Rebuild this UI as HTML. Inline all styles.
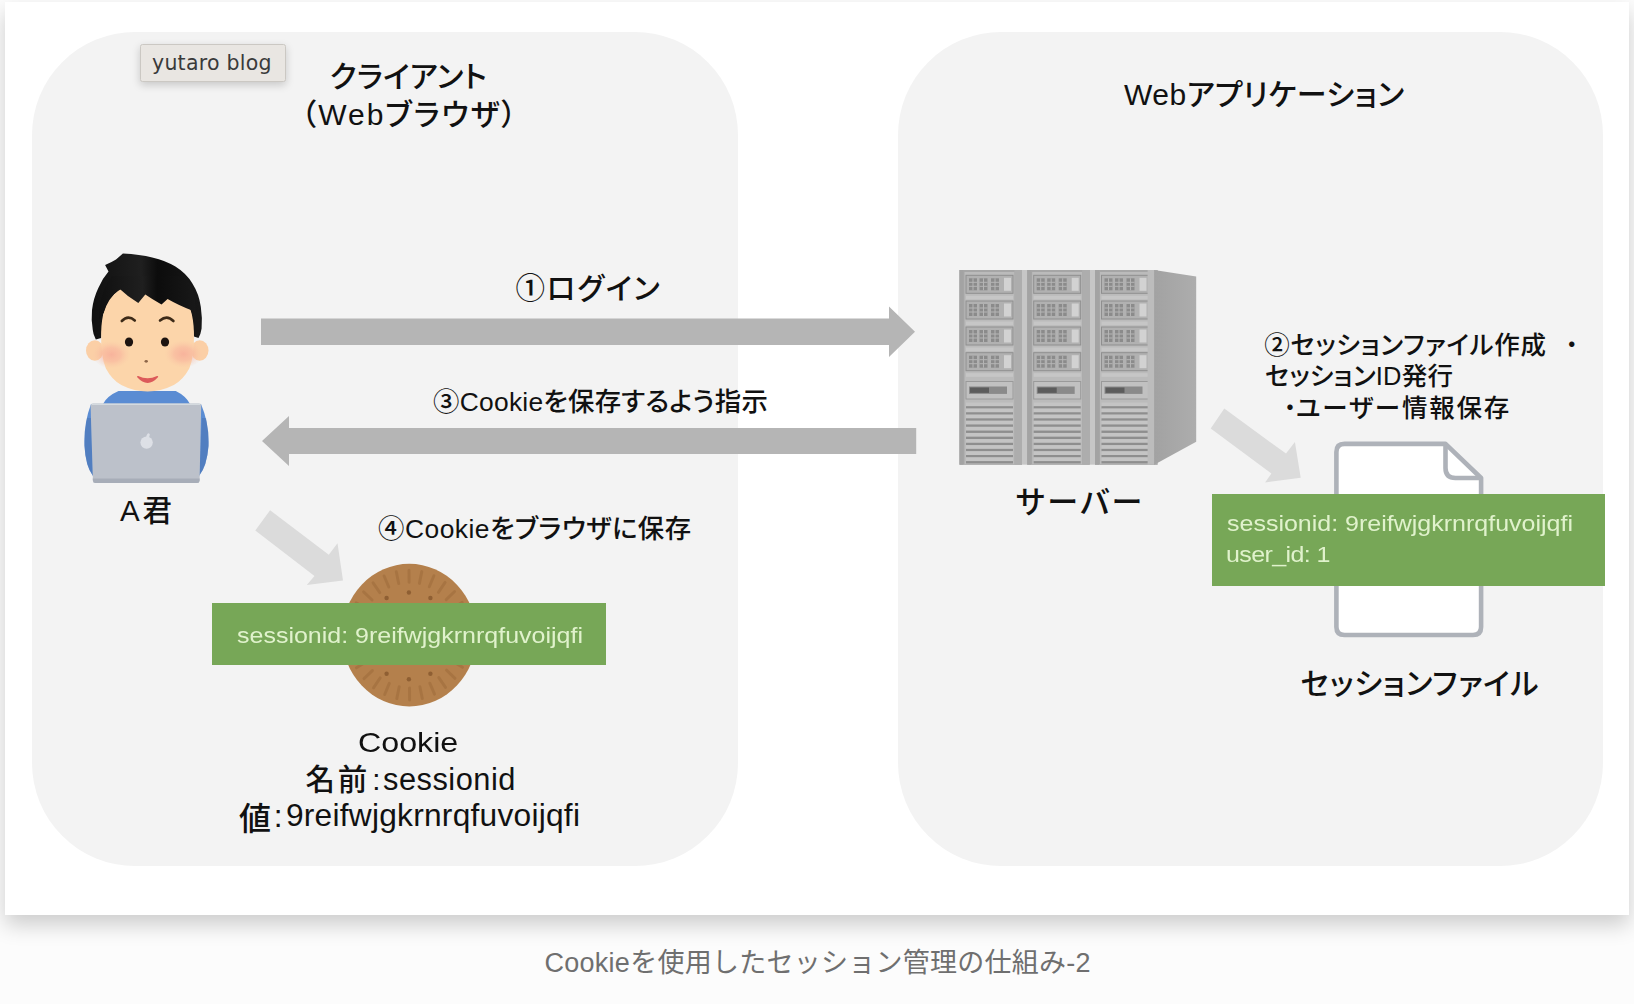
<!DOCTYPE html>
<html lang="ja">
<head>
<meta charset="utf-8">
<title>Cookieを使用したセッション管理の仕組み-2</title>
<style>
html,body{margin:0;padding:0;}
body{width:1634px;height:1004px;overflow:hidden;background:#fcfcfc;position:relative;
  font-family:"Liberation Sans","Noto Sans CJK JP",sans-serif;color:#111;}
.topstrip{position:absolute;left:0;top:0;width:1634px;height:2px;background:#fcfcfc;}
.card{position:absolute;left:5px;top:2px;width:1624px;height:913px;background:#fff;
  box-shadow:0 10px 20px rgba(0,0,0,.19);}
.panel{position:absolute;top:32px;width:705px;height:834px;background:#f3f3f3;border-radius:103px;}
#pl{left:32px;width:706px;}
#pr{left:898px;width:705px;}
.t{position:absolute;white-space:nowrap;line-height:1;}
.p{font-feature-settings:"palt";}
.t{font-weight:500;}
.green .t,.tip .t{font-weight:400;}
.c{transform:translateX(-50%);text-align:center;}
.tip{position:absolute;left:139.5px;top:43.5px;width:146.5px;height:38.5px;box-sizing:border-box;background:#e9e6e2;
  border:1px solid #cbc8c3;border-radius:2.5px;box-shadow:0 3px 8px rgba(0,0,0,.18);
  font-family:"DejaVu Sans","Liberation Sans",sans-serif;font-size:20.5px;letter-spacing:.25px;color:#3a3a3a;white-space:nowrap;}
.green{position:absolute;background:#77a757;color:#e0f2cc;font-size:22.5px;white-space:nowrap;}
.sx{transform:scaleX(1.111);transform-origin:0 0;}
svg{position:absolute;left:0;top:0;}
#boy,#server,#cookie,#file{filter:blur(.45px);}
.cap{position:absolute;left:544.6px;top:949.8px;font-size:27px;line-height:1;letter-spacing:.25px;color:#6f6f6f;white-space:nowrap;}
</style>
</head>
<body>
<div class="topstrip"></div>
<div class="card"></div>
<div class="panel" id="pl"></div>
<div class="panel" id="pr"></div>

<!-- ART -->
<svg id="art" width="1634" height="1004" viewBox="0 0 1634 1004">
  <defs>
    <radialGradient id="ck" cx="50%" cy="50%" r="50%"><stop offset="0" stop-color="#f6a596" stop-opacity=".7"/><stop offset=".5" stop-color="#f7ad9a" stop-opacity=".5"/><stop offset="1" stop-color="#f9c4a6" stop-opacity="0"/></radialGradient>
    <linearGradient id="sd" x1="0" y1="0" x2="1" y2="0"><stop offset="0" stop-color="#a2a2a2"/><stop offset="1" stop-color="#adadad"/></linearGradient>
    <linearGradient id="hr" x1="0" y1="0" x2="1" y2="0"><stop offset="0" stop-color="#101010"/><stop offset=".45" stop-color="#1f1f1f"/><stop offset=".6" stop-color="#0c0c0c"/><stop offset="1" stop-color="#181818"/></linearGradient>
  </defs>
  <!-- big arrows -->
  <polygon points="261,318.5 889,318.5 889,306.5 915,331.8 889,357 889,345 261,345" fill="#b5b5b5"/>
  <polygon points="916.2,428 289,428 289,416 262,441 289,466 289,454 916.2,454" fill="#b5b5b5"/>
  <!-- small diagonal arrows -->
  <polygon points="270.1,510.3 328.8,554.7 337.5,543.2 343,580.5 306.8,584.9 314.5,576.1 255.3,530.6" fill="#dbdbdb"/>
  <polygon points="1224.3,408.6 1286,453.6 1294.9,442.1 1300.7,477.7 1265.1,482.4 1271.4,473.5 1210.7,428.5" fill="#dbdbdb"/>

  <!-- boy -->
  <g id="boy">
    <!-- body / shirt -->
    <path d="M118.5 391 L175.8 391 Q186 396 190 404 L201 404 Q209.5 424 208.5 446 Q207 466 199 476 L93 476 Q85.500 466 84.500 446 Q83.500 424 91 404 L103 404 Q107 396 118.500 391Z" fill="#5a8cd3"/>
    <path d="M93 476 Q85.500 466 84.500 446 Q84 432 87 418 L91 418 L93 476Z" fill="#4a72b0" opacity=".55"/>
    <path d="M199 476 Q207 466 208.500 446 Q209 432 206 418 L202 418 L199 476Z" fill="#4a72b0" opacity=".55"/>
    <!-- ears -->
    <ellipse cx="94.800" cy="350.500" rx="8.800" ry="10.300" fill="#fbcfa6"/>
    <ellipse cx="199.700" cy="350.500" rx="8.800" ry="10.300" fill="#fbcfa6"/>
    <!-- hair back -->
    <path d="M122.900 253.500 Q140 254.500 152.200 257.400 Q166 260.500 175.400 266.600 Q186.500 273.500 192.400 283.600 Q199 294 200.800 306.800 Q202.500 318 201.600 328.400 Q200.800 334 198.500 338 L193.900 336.500 L190.800 311 L103.600 313 L101.200 338 L95.800 339.500 Q93 334 92.800 329.900 Q91 320 92 309.900 Q93.500 298 98.200 288.200 Q102 279 108.500 271.500 L105.100 265.100 Q112 262 116 259.500 Z" fill="url(#hr)"/>
    <!-- face -->
    <path d="M101.200 338 Q100.500 312 110 298 Q125 282 147.500 282 Q170 282 185 298 Q194.500 312 193.900 338 Q194.500 355 189.300 368.500 Q183 380 173.800 385 Q161 391.500 147.600 391.500 Q134 391.500 121.300 385 Q112 380 105.900 368.500 Q100.600 355 101.200 338Z" fill="#fcd5aa"/>
    <!-- bangs -->
    <path d="M99 320 Q99 292 112 276 L186 276 Q197 292 196 322 L190.800 309.900 Q180 306 167.600 299 L161.500 304.400 Q152 299 145.300 294.400 L138.300 302.900 Q128 297 119.800 289 Q108 298 103.600 313 Z" fill="url(#hr)"/>
    <!-- cheeks -->
    <ellipse cx="111.500" cy="354.600" rx="19" ry="14" fill="url(#ck)"/>
    <ellipse cx="183.500" cy="354" rx="19" ry="14" fill="url(#ck)"/>
    <!-- brows -->
    <path d="M121.800 321 Q128 314.500 134.800 320.500" stroke="#3c2a18" stroke-width="2.600" fill="none" stroke-linecap="round"/>
    <path d="M160 320.500 Q167 314.500 173.400 321" stroke="#3c2a18" stroke-width="2.600" fill="none" stroke-linecap="round"/>
    <!-- eyes -->
    <ellipse cx="129" cy="342" rx="4.100" ry="4.500" fill="#1d1410"/>
    <ellipse cx="165" cy="342" rx="4.100" ry="4.500" fill="#1d1410"/>
    <!-- nose -->
    <ellipse cx="146.200" cy="361.300" rx="1.700" ry="1.400" fill="#8c6548"/>
    <!-- mouth -->
    <path d="M137.800 376.800 Q147.600 387.500 157.400 376.800 Q147.600 381.500 137.800 376.800Z" fill="#dc5a5a" stroke="#dc5a5a" stroke-width="1.600" stroke-linejoin="round"/>
    <!-- laptop -->
    <path d="M93 403.500 L199 403.500 Q201.200 403.500 201.200 406 L199.600 480.500 Q199.500 483 197 483 L95.500 483 Q93 483 92.900 480.500 L90.600 406 Q90.600 403.500 93 403.500Z" fill="#bcc1ca"/>
    <path d="M92.700 478.600 L199.700 478.600 L199.600 480.500 Q199.500 483 197 483 L95.500 483 Q93 483 92.900 480.500Z" fill="#a7adb8"/>
    <path d="M91.500 404.200 L200.500 404.200" stroke="#d4dadf" stroke-width="1.600"/>
    <circle cx="146.600" cy="442.600" r="6.200" fill="#dde0e6"/>
    <ellipse cx="148" cy="435.800" rx="1.500" ry="2.600" fill="#dde0e6" transform="rotate(25 148 435.800)"/>
  </g>

  <!-- server -->
  <g id="server">
  <rect x="959.5" y="270" width="195" height="194.700" fill="#c6c6c6"/>
  <rect x="959.5" y="270" width="62.5" height="194.7" fill="#a6a6a6"/>
  <rect x="959.5" y="270" width="4" height="194.7" fill="#a3a3a3"/>
  <rect x="964.5" y="272" width="50" height="192" fill="#bbbbbb"/>
  <rect x="1014.5" y="270" width="7.5" height="194.7" fill="#adadad"/>
  <rect x="966.0" y="275.3" width="47" height="18" fill="#b1b1b1" stroke="#8f8f8f" stroke-width="1"/>
  <rect x="969.0" y="278.3" width="8" height="12" fill="#8b8b8b"/>
  <path d="M969.0 282.3h8M969.0 286.3h8M973.0 278.3v12" stroke="#b5b5b5" stroke-width="1" fill="none"/>
  <rect x="979.5" y="278.3" width="8" height="12" fill="#8b8b8b"/>
  <path d="M979.5 282.3h8M979.5 286.3h8M983.5 278.3v12" stroke="#b5b5b5" stroke-width="1" fill="none"/>
  <rect x="991.0" y="278.3" width="8" height="12" fill="#8b8b8b"/>
  <path d="M991.0 282.3h8M991.0 286.3h8M995.0 278.3v12" stroke="#b5b5b5" stroke-width="1" fill="none"/>
  <rect x="1004.0" y="277.8" width="7" height="13" fill="#d2d2d2"/>
  <rect x="966.0" y="295.8" width="47" height="3.6" fill="#c6c6c6"/>
  <rect x="966.0" y="301" width="47" height="18" fill="#b1b1b1" stroke="#8f8f8f" stroke-width="1"/>
  <rect x="969.0" y="304" width="8" height="12" fill="#8b8b8b"/>
  <path d="M969.0 308h8M969.0 312h8M973.0 304v12" stroke="#b5b5b5" stroke-width="1" fill="none"/>
  <rect x="979.5" y="304" width="8" height="12" fill="#8b8b8b"/>
  <path d="M979.5 308h8M979.5 312h8M983.5 304v12" stroke="#b5b5b5" stroke-width="1" fill="none"/>
  <rect x="991.0" y="304" width="8" height="12" fill="#8b8b8b"/>
  <path d="M991.0 308h8M991.0 312h8M995.0 304v12" stroke="#b5b5b5" stroke-width="1" fill="none"/>
  <rect x="1004.0" y="303.5" width="7" height="13" fill="#d2d2d2"/>
  <rect x="966.0" y="321.5" width="47" height="3.6" fill="#c6c6c6"/>
  <rect x="966.0" y="327" width="47" height="18" fill="#b1b1b1" stroke="#8f8f8f" stroke-width="1"/>
  <rect x="969.0" y="330" width="8" height="12" fill="#8b8b8b"/>
  <path d="M969.0 334h8M969.0 338h8M973.0 330v12" stroke="#b5b5b5" stroke-width="1" fill="none"/>
  <rect x="979.5" y="330" width="8" height="12" fill="#8b8b8b"/>
  <path d="M979.5 334h8M979.5 338h8M983.5 330v12" stroke="#b5b5b5" stroke-width="1" fill="none"/>
  <rect x="991.0" y="330" width="8" height="12" fill="#8b8b8b"/>
  <path d="M991.0 334h8M991.0 338h8M995.0 330v12" stroke="#b5b5b5" stroke-width="1" fill="none"/>
  <rect x="1004.0" y="329.5" width="7" height="13" fill="#d2d2d2"/>
  <rect x="966.0" y="347.5" width="47" height="3.6" fill="#c6c6c6"/>
  <rect x="966.0" y="352.7" width="47" height="18" fill="#b1b1b1" stroke="#8f8f8f" stroke-width="1"/>
  <rect x="969.0" y="355.7" width="8" height="12" fill="#8b8b8b"/>
  <path d="M969.0 359.7h8M969.0 363.7h8M973.0 355.7v12" stroke="#b5b5b5" stroke-width="1" fill="none"/>
  <rect x="979.5" y="355.7" width="8" height="12" fill="#8b8b8b"/>
  <path d="M979.5 359.7h8M979.5 363.7h8M983.5 355.7v12" stroke="#b5b5b5" stroke-width="1" fill="none"/>
  <rect x="991.0" y="355.7" width="8" height="12" fill="#8b8b8b"/>
  <path d="M991.0 359.7h8M991.0 363.7h8M995.0 355.7v12" stroke="#b5b5b5" stroke-width="1" fill="none"/>
  <rect x="1004.0" y="355.2" width="7" height="13" fill="#d2d2d2"/>
  <rect x="966.0" y="373.2" width="47" height="3.6" fill="#c6c6c6"/>
  <rect x="966.0" y="381.5" width="47" height="17.5" fill="#c1c1c1" stroke="#9a9a9a" stroke-width="1"/>
  <rect x="969.0" y="386.5" width="38" height="7.4" fill="#8a8a8a"/>
  <rect x="970.0" y="387.5" width="19" height="5.4" fill="#5c5c5c"/>
  <rect x="966.0" y="402.5" width="47" height="3.7" fill="#c4c4c4"/>
  <rect x="966.0" y="406.2" width="47" height="2.3" fill="#8e8e8e"/>
  <rect x="966.0" y="408.6" width="47" height="3.7" fill="#c4c4c4"/>
  <rect x="966.0" y="412.3" width="47" height="2.3" fill="#8e8e8e"/>
  <rect x="966.0" y="414.7" width="47" height="3.7" fill="#c4c4c4"/>
  <rect x="966.0" y="418.4" width="47" height="2.3" fill="#8e8e8e"/>
  <rect x="966.0" y="420.8" width="47" height="3.7" fill="#c4c4c4"/>
  <rect x="966.0" y="424.5" width="47" height="2.3" fill="#8e8e8e"/>
  <rect x="966.0" y="426.9" width="47" height="3.7" fill="#c4c4c4"/>
  <rect x="966.0" y="430.6" width="47" height="2.3" fill="#8e8e8e"/>
  <rect x="966.0" y="433.0" width="47" height="3.7" fill="#c4c4c4"/>
  <rect x="966.0" y="436.7" width="47" height="2.3" fill="#8e8e8e"/>
  <rect x="966.0" y="439.1" width="47" height="3.7" fill="#c4c4c4"/>
  <rect x="966.0" y="442.8" width="47" height="2.3" fill="#8e8e8e"/>
  <rect x="966.0" y="445.2" width="47" height="3.7" fill="#c4c4c4"/>
  <rect x="966.0" y="448.9" width="47" height="2.3" fill="#8e8e8e"/>
  <rect x="966.0" y="451.3" width="47" height="3.7" fill="#c4c4c4"/>
  <rect x="966.0" y="455.0" width="47" height="2.3" fill="#8e8e8e"/>
  <rect x="966.0" y="457.4" width="47" height="3.7" fill="#c4c4c4"/>
  <rect x="966.0" y="461.1" width="47" height="2.3" fill="#8e8e8e"/>
  <rect x="1027.2" y="270" width="62.5" height="194.7" fill="#a6a6a6"/>
  <rect x="1027.2" y="270" width="4" height="194.7" fill="#a3a3a3"/>
  <rect x="1032.2" y="272" width="50" height="192" fill="#bbbbbb"/>
  <rect x="1082.2" y="270" width="7.5" height="194.7" fill="#adadad"/>
  <rect x="1033.7" y="275.3" width="47" height="18" fill="#b1b1b1" stroke="#8f8f8f" stroke-width="1"/>
  <rect x="1036.7" y="278.3" width="8" height="12" fill="#8b8b8b"/>
  <path d="M1036.7 282.3h8M1036.7 286.3h8M1040.7 278.3v12" stroke="#b5b5b5" stroke-width="1" fill="none"/>
  <rect x="1047.2" y="278.3" width="8" height="12" fill="#8b8b8b"/>
  <path d="M1047.2 282.3h8M1047.2 286.3h8M1051.2 278.3v12" stroke="#b5b5b5" stroke-width="1" fill="none"/>
  <rect x="1058.7" y="278.3" width="8" height="12" fill="#8b8b8b"/>
  <path d="M1058.7 282.3h8M1058.7 286.3h8M1062.7 278.3v12" stroke="#b5b5b5" stroke-width="1" fill="none"/>
  <rect x="1071.7" y="277.8" width="7" height="13" fill="#d2d2d2"/>
  <rect x="1033.7" y="295.8" width="47" height="3.6" fill="#c6c6c6"/>
  <rect x="1033.7" y="301" width="47" height="18" fill="#b1b1b1" stroke="#8f8f8f" stroke-width="1"/>
  <rect x="1036.7" y="304" width="8" height="12" fill="#8b8b8b"/>
  <path d="M1036.7 308h8M1036.7 312h8M1040.7 304v12" stroke="#b5b5b5" stroke-width="1" fill="none"/>
  <rect x="1047.2" y="304" width="8" height="12" fill="#8b8b8b"/>
  <path d="M1047.2 308h8M1047.2 312h8M1051.2 304v12" stroke="#b5b5b5" stroke-width="1" fill="none"/>
  <rect x="1058.7" y="304" width="8" height="12" fill="#8b8b8b"/>
  <path d="M1058.7 308h8M1058.7 312h8M1062.7 304v12" stroke="#b5b5b5" stroke-width="1" fill="none"/>
  <rect x="1071.7" y="303.5" width="7" height="13" fill="#d2d2d2"/>
  <rect x="1033.7" y="321.5" width="47" height="3.6" fill="#c6c6c6"/>
  <rect x="1033.7" y="327" width="47" height="18" fill="#b1b1b1" stroke="#8f8f8f" stroke-width="1"/>
  <rect x="1036.7" y="330" width="8" height="12" fill="#8b8b8b"/>
  <path d="M1036.7 334h8M1036.7 338h8M1040.7 330v12" stroke="#b5b5b5" stroke-width="1" fill="none"/>
  <rect x="1047.2" y="330" width="8" height="12" fill="#8b8b8b"/>
  <path d="M1047.2 334h8M1047.2 338h8M1051.2 330v12" stroke="#b5b5b5" stroke-width="1" fill="none"/>
  <rect x="1058.7" y="330" width="8" height="12" fill="#8b8b8b"/>
  <path d="M1058.7 334h8M1058.7 338h8M1062.7 330v12" stroke="#b5b5b5" stroke-width="1" fill="none"/>
  <rect x="1071.7" y="329.5" width="7" height="13" fill="#d2d2d2"/>
  <rect x="1033.7" y="347.5" width="47" height="3.6" fill="#c6c6c6"/>
  <rect x="1033.7" y="352.7" width="47" height="18" fill="#b1b1b1" stroke="#8f8f8f" stroke-width="1"/>
  <rect x="1036.7" y="355.7" width="8" height="12" fill="#8b8b8b"/>
  <path d="M1036.7 359.7h8M1036.7 363.7h8M1040.7 355.7v12" stroke="#b5b5b5" stroke-width="1" fill="none"/>
  <rect x="1047.2" y="355.7" width="8" height="12" fill="#8b8b8b"/>
  <path d="M1047.2 359.7h8M1047.2 363.7h8M1051.2 355.7v12" stroke="#b5b5b5" stroke-width="1" fill="none"/>
  <rect x="1058.7" y="355.7" width="8" height="12" fill="#8b8b8b"/>
  <path d="M1058.7 359.7h8M1058.7 363.7h8M1062.7 355.7v12" stroke="#b5b5b5" stroke-width="1" fill="none"/>
  <rect x="1071.7" y="355.2" width="7" height="13" fill="#d2d2d2"/>
  <rect x="1033.7" y="373.2" width="47" height="3.6" fill="#c6c6c6"/>
  <rect x="1033.7" y="381.5" width="47" height="17.5" fill="#c1c1c1" stroke="#9a9a9a" stroke-width="1"/>
  <rect x="1036.7" y="386.5" width="38" height="7.4" fill="#8a8a8a"/>
  <rect x="1037.7" y="387.5" width="19" height="5.4" fill="#5c5c5c"/>
  <rect x="1033.7" y="402.5" width="47" height="3.7" fill="#c4c4c4"/>
  <rect x="1033.7" y="406.2" width="47" height="2.3" fill="#8e8e8e"/>
  <rect x="1033.7" y="408.6" width="47" height="3.7" fill="#c4c4c4"/>
  <rect x="1033.7" y="412.3" width="47" height="2.3" fill="#8e8e8e"/>
  <rect x="1033.7" y="414.7" width="47" height="3.7" fill="#c4c4c4"/>
  <rect x="1033.7" y="418.4" width="47" height="2.3" fill="#8e8e8e"/>
  <rect x="1033.7" y="420.8" width="47" height="3.7" fill="#c4c4c4"/>
  <rect x="1033.7" y="424.5" width="47" height="2.3" fill="#8e8e8e"/>
  <rect x="1033.7" y="426.9" width="47" height="3.7" fill="#c4c4c4"/>
  <rect x="1033.7" y="430.6" width="47" height="2.3" fill="#8e8e8e"/>
  <rect x="1033.7" y="433.0" width="47" height="3.7" fill="#c4c4c4"/>
  <rect x="1033.7" y="436.7" width="47" height="2.3" fill="#8e8e8e"/>
  <rect x="1033.7" y="439.1" width="47" height="3.7" fill="#c4c4c4"/>
  <rect x="1033.7" y="442.8" width="47" height="2.3" fill="#8e8e8e"/>
  <rect x="1033.7" y="445.2" width="47" height="3.7" fill="#c4c4c4"/>
  <rect x="1033.7" y="448.9" width="47" height="2.3" fill="#8e8e8e"/>
  <rect x="1033.7" y="451.3" width="47" height="3.7" fill="#c4c4c4"/>
  <rect x="1033.7" y="455.0" width="47" height="2.3" fill="#8e8e8e"/>
  <rect x="1033.7" y="457.4" width="47" height="3.7" fill="#c4c4c4"/>
  <rect x="1033.7" y="461.1" width="47" height="2.3" fill="#8e8e8e"/>
  <rect x="1095" y="270" width="62.5" height="194.7" fill="#a6a6a6"/>
  <rect x="1095" y="270" width="4" height="194.7" fill="#a3a3a3"/>
  <rect x="1100" y="272" width="50" height="192" fill="#bbbbbb"/>
  <rect x="1150" y="270" width="7.5" height="194.7" fill="#adadad"/>
  <rect x="1101.5" y="275.3" width="47" height="18" fill="#b1b1b1" stroke="#8f8f8f" stroke-width="1"/>
  <rect x="1104.5" y="278.3" width="8" height="12" fill="#8b8b8b"/>
  <path d="M1104.5 282.3h8M1104.5 286.3h8M1108.5 278.3v12" stroke="#b5b5b5" stroke-width="1" fill="none"/>
  <rect x="1115" y="278.3" width="8" height="12" fill="#8b8b8b"/>
  <path d="M1115 282.3h8M1115 286.3h8M1119 278.3v12" stroke="#b5b5b5" stroke-width="1" fill="none"/>
  <rect x="1126.5" y="278.3" width="8" height="12" fill="#8b8b8b"/>
  <path d="M1126.5 282.3h8M1126.5 286.3h8M1130.5 278.3v12" stroke="#b5b5b5" stroke-width="1" fill="none"/>
  <rect x="1139.5" y="277.8" width="7" height="13" fill="#d2d2d2"/>
  <rect x="1101.5" y="295.8" width="47" height="3.6" fill="#c6c6c6"/>
  <rect x="1101.5" y="301" width="47" height="18" fill="#b1b1b1" stroke="#8f8f8f" stroke-width="1"/>
  <rect x="1104.5" y="304" width="8" height="12" fill="#8b8b8b"/>
  <path d="M1104.5 308h8M1104.5 312h8M1108.5 304v12" stroke="#b5b5b5" stroke-width="1" fill="none"/>
  <rect x="1115" y="304" width="8" height="12" fill="#8b8b8b"/>
  <path d="M1115 308h8M1115 312h8M1119 304v12" stroke="#b5b5b5" stroke-width="1" fill="none"/>
  <rect x="1126.5" y="304" width="8" height="12" fill="#8b8b8b"/>
  <path d="M1126.5 308h8M1126.5 312h8M1130.5 304v12" stroke="#b5b5b5" stroke-width="1" fill="none"/>
  <rect x="1139.5" y="303.5" width="7" height="13" fill="#d2d2d2"/>
  <rect x="1101.5" y="321.5" width="47" height="3.6" fill="#c6c6c6"/>
  <rect x="1101.5" y="327" width="47" height="18" fill="#b1b1b1" stroke="#8f8f8f" stroke-width="1"/>
  <rect x="1104.5" y="330" width="8" height="12" fill="#8b8b8b"/>
  <path d="M1104.5 334h8M1104.5 338h8M1108.5 330v12" stroke="#b5b5b5" stroke-width="1" fill="none"/>
  <rect x="1115" y="330" width="8" height="12" fill="#8b8b8b"/>
  <path d="M1115 334h8M1115 338h8M1119 330v12" stroke="#b5b5b5" stroke-width="1" fill="none"/>
  <rect x="1126.5" y="330" width="8" height="12" fill="#8b8b8b"/>
  <path d="M1126.5 334h8M1126.5 338h8M1130.5 330v12" stroke="#b5b5b5" stroke-width="1" fill="none"/>
  <rect x="1139.5" y="329.5" width="7" height="13" fill="#d2d2d2"/>
  <rect x="1101.5" y="347.5" width="47" height="3.6" fill="#c6c6c6"/>
  <rect x="1101.5" y="352.7" width="47" height="18" fill="#b1b1b1" stroke="#8f8f8f" stroke-width="1"/>
  <rect x="1104.5" y="355.7" width="8" height="12" fill="#8b8b8b"/>
  <path d="M1104.5 359.7h8M1104.5 363.7h8M1108.5 355.7v12" stroke="#b5b5b5" stroke-width="1" fill="none"/>
  <rect x="1115" y="355.7" width="8" height="12" fill="#8b8b8b"/>
  <path d="M1115 359.7h8M1115 363.7h8M1119 355.7v12" stroke="#b5b5b5" stroke-width="1" fill="none"/>
  <rect x="1126.5" y="355.7" width="8" height="12" fill="#8b8b8b"/>
  <path d="M1126.5 359.7h8M1126.5 363.7h8M1130.5 355.7v12" stroke="#b5b5b5" stroke-width="1" fill="none"/>
  <rect x="1139.5" y="355.2" width="7" height="13" fill="#d2d2d2"/>
  <rect x="1101.5" y="373.2" width="47" height="3.6" fill="#c6c6c6"/>
  <rect x="1101.5" y="381.5" width="47" height="17.5" fill="#c1c1c1" stroke="#9a9a9a" stroke-width="1"/>
  <rect x="1104.5" y="386.5" width="38" height="7.4" fill="#8a8a8a"/>
  <rect x="1105.5" y="387.5" width="19" height="5.4" fill="#5c5c5c"/>
  <rect x="1101.5" y="402.5" width="47" height="3.7" fill="#c4c4c4"/>
  <rect x="1101.5" y="406.2" width="47" height="2.3" fill="#8e8e8e"/>
  <rect x="1101.5" y="408.6" width="47" height="3.7" fill="#c4c4c4"/>
  <rect x="1101.5" y="412.3" width="47" height="2.3" fill="#8e8e8e"/>
  <rect x="1101.5" y="414.7" width="47" height="3.7" fill="#c4c4c4"/>
  <rect x="1101.5" y="418.4" width="47" height="2.3" fill="#8e8e8e"/>
  <rect x="1101.5" y="420.8" width="47" height="3.7" fill="#c4c4c4"/>
  <rect x="1101.5" y="424.5" width="47" height="2.3" fill="#8e8e8e"/>
  <rect x="1101.5" y="426.9" width="47" height="3.7" fill="#c4c4c4"/>
  <rect x="1101.5" y="430.6" width="47" height="2.3" fill="#8e8e8e"/>
  <rect x="1101.5" y="433.0" width="47" height="3.7" fill="#c4c4c4"/>
  <rect x="1101.5" y="436.7" width="47" height="2.3" fill="#8e8e8e"/>
  <rect x="1101.5" y="439.1" width="47" height="3.7" fill="#c4c4c4"/>
  <rect x="1101.5" y="442.8" width="47" height="2.3" fill="#8e8e8e"/>
  <rect x="1101.5" y="445.2" width="47" height="3.7" fill="#c4c4c4"/>
  <rect x="1101.5" y="448.9" width="47" height="2.3" fill="#8e8e8e"/>
  <rect x="1101.5" y="451.3" width="47" height="3.7" fill="#c4c4c4"/>
  <rect x="1101.5" y="455.0" width="47" height="2.3" fill="#8e8e8e"/>
  <rect x="1101.5" y="457.4" width="47" height="3.7" fill="#c4c4c4"/>
  <rect x="1101.5" y="461.1" width="47" height="2.3" fill="#8e8e8e"/>
  <rect x="1147.6" y="270" width="6.600" height="194.700" fill="#bcbcbc"/>
  <polygon points="1154.200,270 1196.200,276.400 1196.200,441.700 1154.200,464.700" fill="url(#sd)"/>
  </g>

  <!-- cookie -->
  <g id="cookie">
    <ellipse cx="409.300" cy="635.100" rx="67.300" ry="71.300" fill="#b4804c"/>
    <g stroke="#a06d3c" stroke-width="3" stroke-linecap="round" opacity=".6">
      <line x1="458.9" y1="640.4" x2="470.2" y2="641.6"/><line x1="456.7" y1="651.2" x2="467.6" y2="654.9"/><line x1="452.5" y1="661.3" x2="462.5" y2="667.3"/><line x1="446.5" y1="670.2" x2="455.0" y2="678.3"/><line x1="438.8" y1="677.6" x2="445.5" y2="687.4"/><line x1="429.8" y1="683.2" x2="434.5" y2="694.2"/><line x1="419.9" y1="686.7" x2="422.3" y2="698.5"/><line x1="409.5" y1="687.9" x2="409.6" y2="700.0"/><line x1="399.2" y1="686.8" x2="396.8" y2="698.6"/><line x1="389.3" y1="683.4" x2="384.7" y2="694.5"/><line x1="380.2" y1="677.9" x2="373.5" y2="687.8"/><line x1="372.4" y1="670.6" x2="364.0" y2="678.7"/><line x1="366.3" y1="661.7" x2="356.4" y2="667.8"/><line x1="362.0" y1="651.6" x2="351.1" y2="655.4"/><line x1="359.8" y1="640.9" x2="348.4" y2="642.2"/><line x1="359.7" y1="629.8" x2="348.4" y2="628.6"/><line x1="361.9" y1="619.0" x2="351.0" y2="615.3"/><line x1="366.1" y1="608.9" x2="356.1" y2="602.9"/><line x1="372.1" y1="600.0" x2="363.6" y2="591.9"/><line x1="379.8" y1="592.6" x2="373.1" y2="582.8"/><line x1="388.8" y1="587.0" x2="384.1" y2="576.0"/><line x1="398.7" y1="583.5" x2="396.3" y2="571.7"/><line x1="409.1" y1="582.3" x2="409.0" y2="570.2"/><line x1="419.4" y1="583.4" x2="421.8" y2="571.6"/><line x1="429.3" y1="586.8" x2="433.9" y2="575.7"/><line x1="438.4" y1="592.3" x2="445.1" y2="582.4"/><line x1="446.2" y1="599.6" x2="454.6" y2="591.5"/><line x1="452.3" y1="608.5" x2="462.2" y2="602.4"/><line x1="456.6" y1="618.6" x2="467.5" y2="614.8"/><line x1="458.8" y1="629.3" x2="470.2" y2="628.0"/>
    </g>
    <g fill="#8f5f33">
      <circle cx="408.900" cy="592.500" r="2.200"/><circle cx="386.600" cy="598" r="2.200"/><circle cx="430.400" cy="598" r="2.200"/>
      <circle cx="386.600" cy="673.700" r="2.200"/><circle cx="408.900" cy="679.300" r="2.200"/><circle cx="430.400" cy="673.700" r="2.200"/>
    </g>
  </g>

  <!-- session file -->
  <g id="file">
    <path d="M1344.500 443.900 L1445.500 443.900 L1481.100 478 L1481.100 627 Q1481.100 635 1473 635 L1344.500 635 Q1336.400 635 1336.400 627 L1336.400 452 Q1336.400 443.900 1344.500 443.900Z" fill="#ffffff" stroke="#aeb2b9" stroke-width="4.6" stroke-linejoin="round"/>
    <path d="M1445.500 443.900 L1445.500 468 Q1445.500 478 1455.500 478 L1481.100 478" fill="none" stroke="#aeb2b9" stroke-width="4.6" stroke-linejoin="round"/>
  </g>
</svg>

<div class="tip" id="tip"><span class="t" style="left:11.5px;top:8.1px;">yutaro blog</span></div>

<div class="t p" id="t1" style="left:329.7px;top:61.9px;font-size:30px;letter-spacing:.25px;">クライアント</div>
<div class="t p" id="t2" style="left:301.2px;top:100.4px;font-size:30px;letter-spacing:2px;">（Webブラウザ）</div>
<div class="t p" id="t3" style="left:1124.1px;top:79.8px;font-size:30px;letter-spacing:.5px;">Webアプリケーション</div>
<div class="t p" id="t4" style="left:515.5px;top:273.9px;font-size:29.5px;letter-spacing:1.75px;">①ログイン</div>
<div class="t p" id="t5" style="left:433.1px;top:388.8px;font-size:26.4px;letter-spacing:.25px;">③Cookieを保存するよう指示</div>
<div class="t p" id="t6" style="left:378px;top:515.6px;font-size:26.4px;letter-spacing:.5px;">④Cookieをブラウザに保存</div>
<div class="t" id="t7" style="left:120.1px;top:495.8px;font-size:29.5px;letter-spacing:2.75px;">A君</div>
<div class="t" id="t8" style="left:1015.1px;top:486.7px;font-size:31px;letter-spacing:1.25px;">サーバー</div>
<div class="t p" id="t9" style="left:1264.3px;top:332.6px;font-size:25.5px;letter-spacing:.75px;">②セッションファイル作成</div>
<div class="t" id="t9d" style="left:1559px;top:332.6px;font-size:25.5px;font-weight:400;">・</div>
<div class="t p" id="t10" style="left:1265px;top:364.4px;font-size:25.5px;letter-spacing:.25px;">セッションID発行</div>
<div class="t" id="t11d" style="left:1277.2px;top:395.9px;font-size:25.5px;font-weight:400;">・</div>
<div class="t p" id="t11" style="left:1295.8px;top:395.9px;font-size:25.5px;letter-spacing:1.75px;">ユーザー情報保存</div>
<div class="t p" id="t12" style="left:1300.6px;top:668.9px;font-size:30px;letter-spacing:.75px;">セッションファイル</div>
<div class="t" id="t13" style="left:358.3px;top:728px;font-size:28.5px;transform:scaleX(1.13);transform-origin:0 0;">Cookie</div>
<div class="t" id="t14" style="left:305.4px;top:764.8px;font-size:29.5px;letter-spacing:2.75px;">名前<span class="t" style="left:66.8px;top:.2px;letter-spacing:0;">:</span><span class="t" style="left:77.6px;top:.2px;font-size:30.8px;letter-spacing:.5px;">sessionid</span></div>
<div class="t" id="t15" style="left:238.9px;top:803.1px;font-size:32px;">値<span class="t" style="left:34.9px;top:-1.9px;font-size:31.7px;">:</span><span class="t" style="left:47px;top:-3px;font-size:31.7px;letter-spacing:.25px;">9reifwjgkrnrqfuvoijqfi</span></div>

<div class="green" id="g1" style="left:212px;top:603px;width:394px;height:62px;"><span class="t sx" id="g1t" style="left:24.8px;top:21.8px;">sessionid: 9reifwjgkrnrqfuvoijqfi</span></div>
<div class="green" id="g2" style="left:1212.3px;top:494px;width:393px;height:92.4px;"><span class="t sx" id="g2a" style="left:14.5px;top:19.4px;">sessionid: 9reifwjgkrnrqfuvoijqfi</span><span class="t sx" id="g2b" style="left:14.1px;top:50px;letter-spacing:-.55px;">user_id: 1</span></div>

<div class="cap" id="cap">Cookieを使用したセッション管理の仕組み-2</div>
</body>
</html>
